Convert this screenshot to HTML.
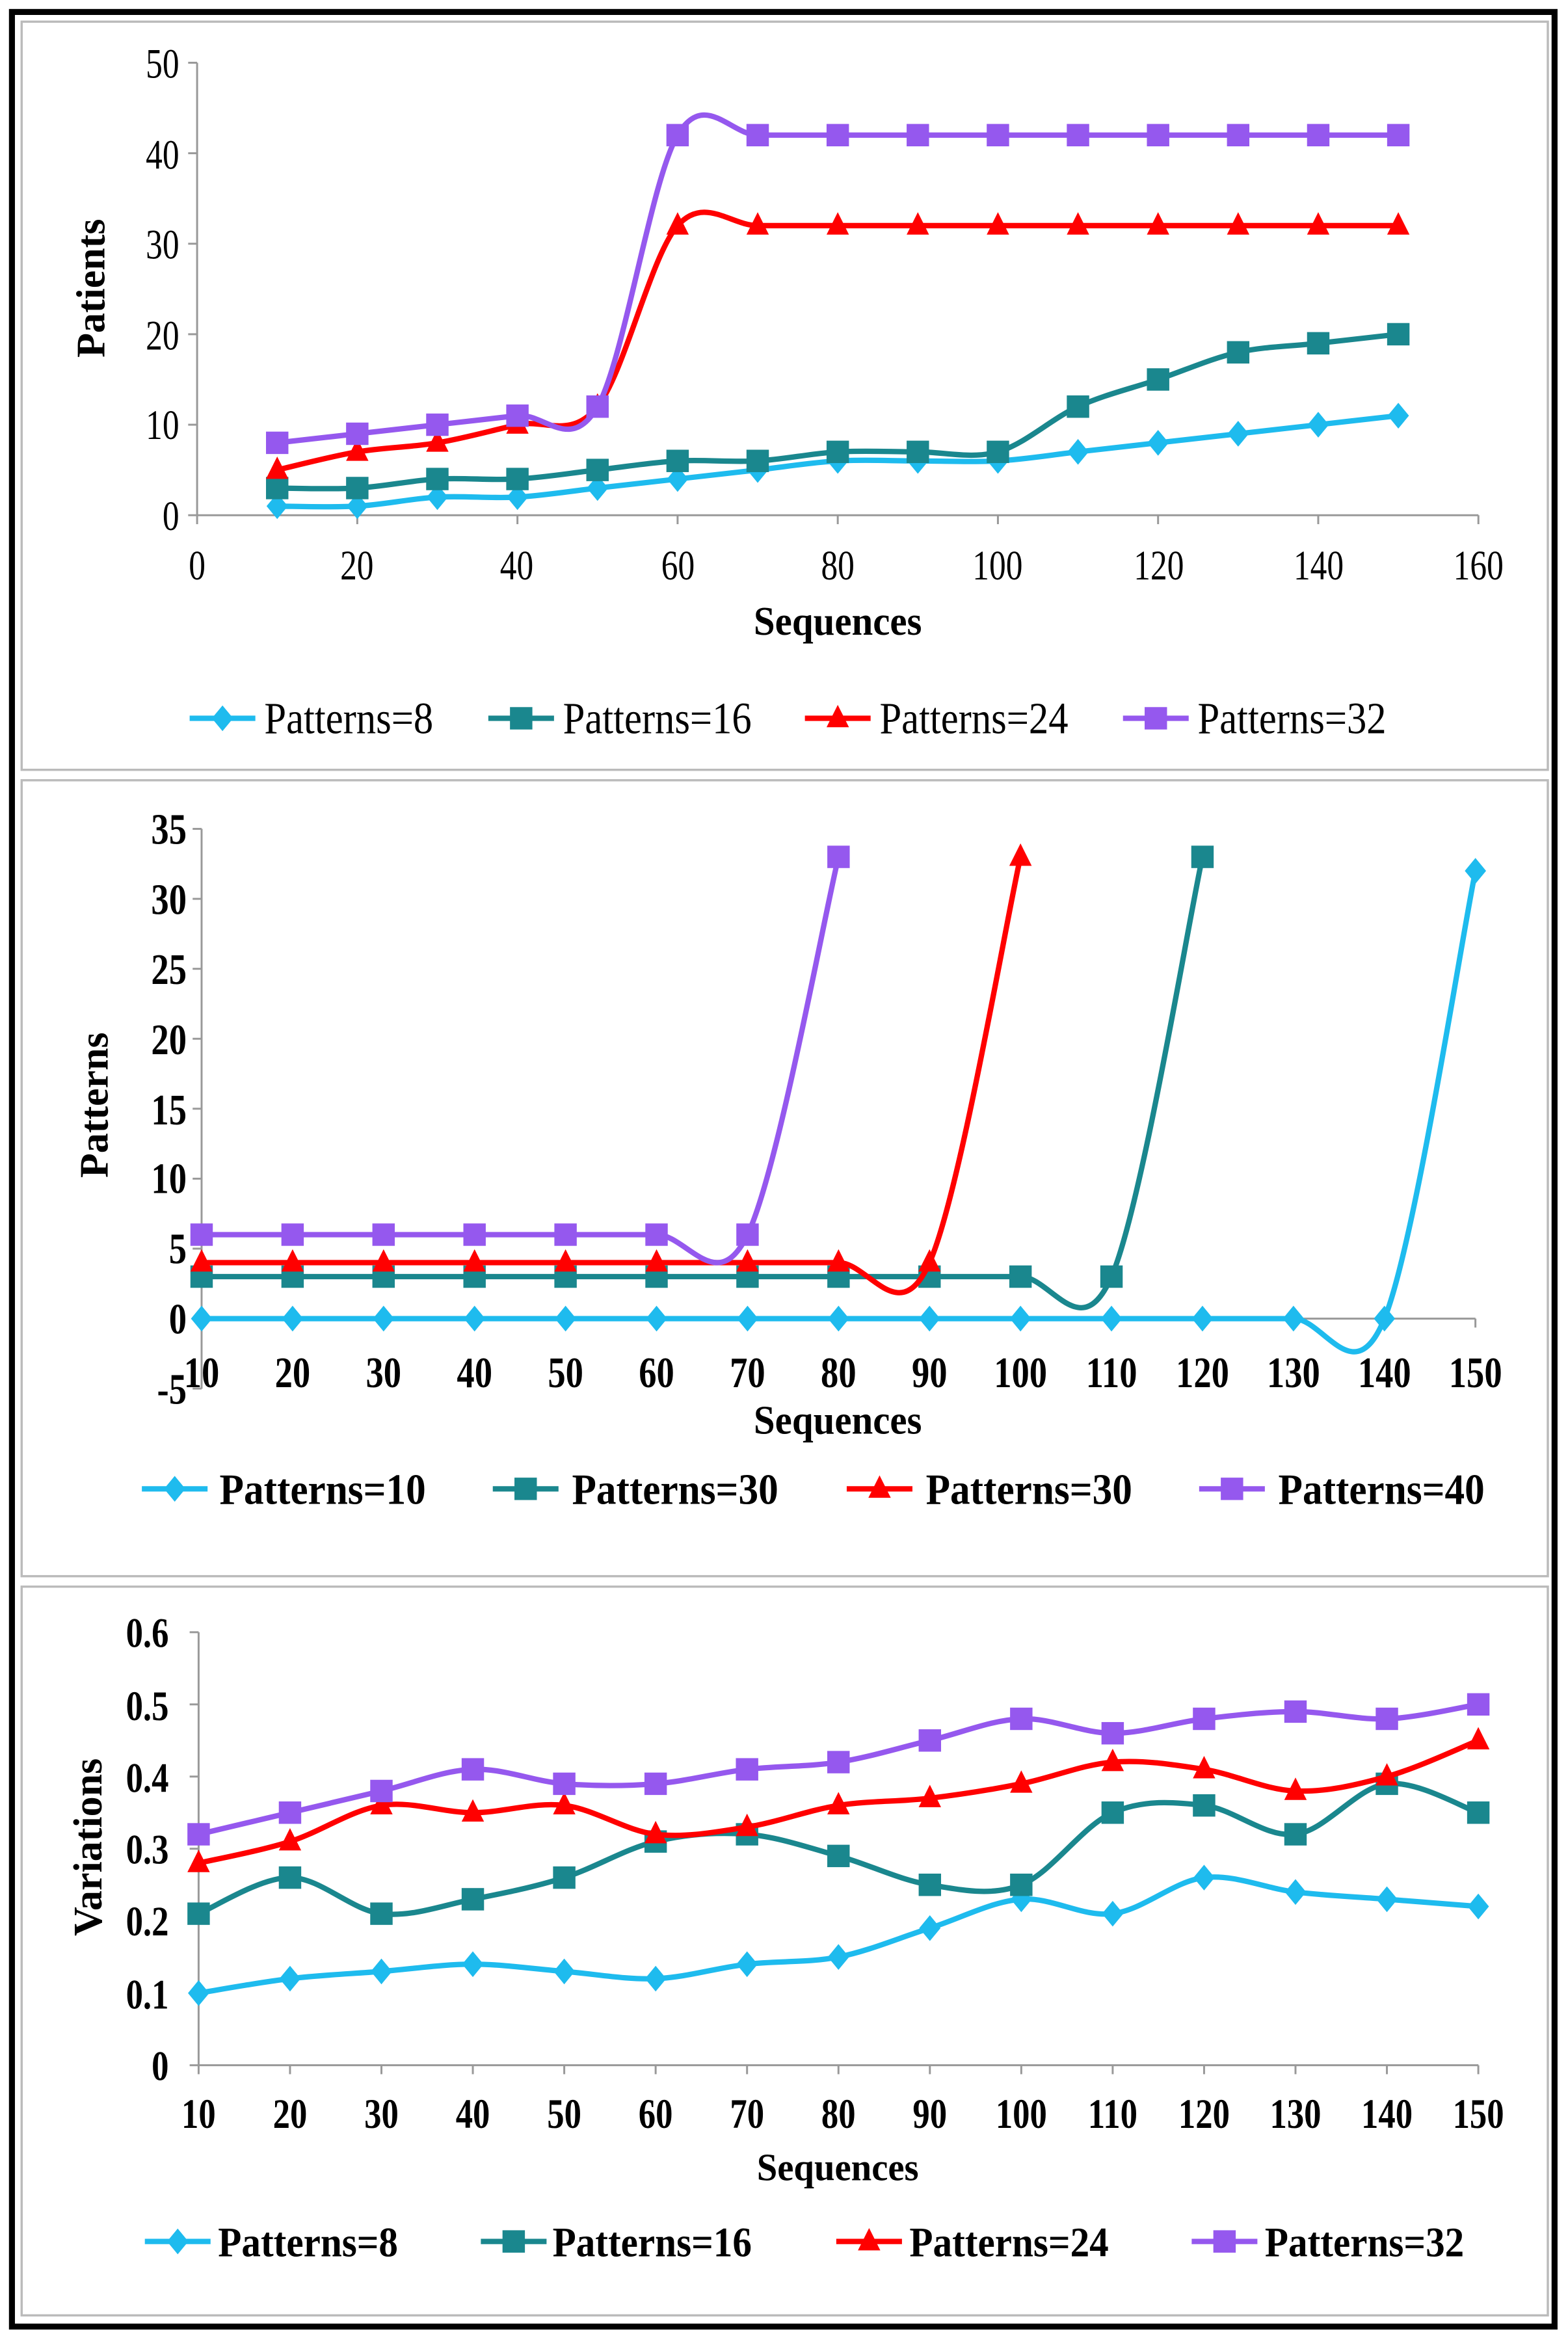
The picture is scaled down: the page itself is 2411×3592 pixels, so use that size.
<!DOCTYPE html>
<html><head><meta charset="utf-8"><style>
html,body{margin:0;padding:0;background:#fff;}
svg{display:block;}
text{font-family:"Liberation Serif",serif;fill:#000;}
.b{font-weight:bold;}
</style></head><body>
<svg id="s" width="2411" height="3592" viewBox="0 0 1050 1564.3" xmlns="http://www.w3.org/2000/svg">
<rect x="0" y="0" width="1050" height="1565" fill="#fff"/>
<rect x="8" y="8" width="1033" height="1550" fill="none" stroke="#000" stroke-width="4"/>
<rect x="14.5" y="14.5" width="1022" height="501" fill="none" stroke="#bbb" stroke-width="1.5"/>
<rect x="14.5" y="522.5" width="1022" height="533" fill="none" stroke="#bbb" stroke-width="1.5"/>
<rect x="14.5" y="1062.5" width="1022" height="488" fill="none" stroke="#bbb" stroke-width="1.5"/>

<!-- Chart 1 text -->
<g font-size="28" text-anchor="end" class="s80">
<text x="120" y="355">0</text><text x="120" y="294">10</text><text x="120" y="234">20</text><text x="120" y="173">30</text><text x="120" y="113">40</text><text x="120" y="52">50</text>
</g>
<g font-size="28" text-anchor="middle" class="s80">
<text x="132" y="388">0</text><text x="239" y="388">20</text><text x="346" y="388">40</text><text x="454" y="388">60</text><text x="561" y="388">80</text><text x="668" y="388">100</text><text x="776" y="388">120</text><text x="883" y="388">140</text><text x="990" y="388">160</text>
</g>
<text class="b s95" x="561" y="425" font-size="27" text-anchor="middle">Sequences</text>
<text class="b" x="0" y="0" font-size="27" text-anchor="middle" transform="translate(70,193) rotate(-90)">Patients</text>
<g font-size="30" class="s88">
<text x="177" y="491">Patterns=8</text><text x="377" y="491">Patterns=16</text><text x="589" y="491">Patterns=24</text><text x="802" y="491">Patterns=32</text>
</g>

<!-- Chart 2 text -->
<g font-size="29" text-anchor="end" class="b s82">
<text x="125" y="565">35</text><text x="125" y="612">30</text><text x="125" y="659">25</text><text x="125" y="706">20</text><text x="125" y="753">15</text><text x="125" y="799">10</text><text x="125" y="846">5</text><text x="125" y="893">0</text><text x="125" y="940">-5</text>
</g>
<g font-size="29" text-anchor="middle" class="b s82" id="x2"></g>
<text class="b s95" x="561" y="960" font-size="27" text-anchor="middle">Sequences</text>
<text class="b" x="0" y="0" font-size="27" text-anchor="middle" transform="translate(72,740) rotate(-90)">Patterns</text>
<g font-size="29" class="b s92">
<text x="147" y="1007">Patterns=10</text><text x="383" y="1007">Patterns=30</text><text x="620" y="1007">Patterns=30</text><text x="856" y="1007">Patterns=40</text>
</g>

<!-- Chart 3 text -->
<g font-size="28" text-anchor="end" class="b s82">
<text x="113" y="1393">0</text><text x="113" y="1345">0.1</text><text x="113" y="1296">0.2</text><text x="113" y="1248">0.3</text><text x="113" y="1200">0.4</text><text x="113" y="1152">0.5</text><text x="113" y="1103">0.6</text>
</g>
<g font-size="28" text-anchor="middle" class="b s82" id="x3"></g>
<text class="b s95" x="561" y="1460" font-size="26" text-anchor="middle">Sequences</text>
<text class="b" x="0" y="0" font-size="27" text-anchor="middle" transform="translate(68,1237) rotate(-90)">Variations</text>
<g font-size="28" class="b s92">
<text x="146" y="1511">Patterns=8</text><text x="370" y="1511">Patterns=16</text><text x="609" y="1511">Patterns=24</text><text x="847" y="1511">Patterns=32</text>
</g>
<g id="g"></g>
</svg>
<script>
var NS="http://www.w3.org/2000/svg",G=document.getElementById('g');
function el(t,a,p){var e=document.createElementNS(NS,t);for(var k in a)e.setAttribute(k,a[k]);(p||G).appendChild(e);return e;}
var C={c:'#1EBBEE',t:'#1A878E',r:'#FF0000',p:'#9558EE'};
function path(pts){var d='M'+pts[0][0]+','+pts[0][1];for(var i=0;i<pts.length-1;i++){var p0=pts[i-1]||pts[i],p1=pts[i],p2=pts[i+1],p3=pts[i+2]||p2;d+=' C'+(p1[0]+(p2[0]-p0[0])/6)+','+(p1[1]+(p2[1]-p0[1])/6)+' '+(p2[0]-(p3[0]-p1[0])/6)+','+(p2[1]-(p3[1]-p1[1])/6)+' '+p2[0]+','+p2[1];}return d;}
function mk(type,x,y,col,s){s=s||7.5;
 if(type=='d')el('polygon',{points:[x,y-s*1.15,x+s*0.95,y,x,y+s*1.15,x-s*0.95,y].join(' '),fill:col});
 else if(type=='s')el('rect',{x:x-s,y:y-s,width:2*s,height:2*s,fill:col});
 else el('polygon',{points:[x,y-s*1.2,x+s,y+s*0.8,x-s,y+s*0.8].join(' '),fill:col});}
function series(pts,col,type,s){el('path',{d:path(pts),fill:'none',stroke:col,'stroke-width':3.6});pts.forEach(function(p){mk(type,p[0],p[1],col,s);});}
function legend(x1,y,col,type){el('line',{x1:x1,y1:y,x2:x1+44,y2:y,stroke:col,'stroke-width':3.6});mk(type,x1+22,y,col,7.5);}
function ax(x1,y1,x2,y2){el('line',{x1:x1,y1:y1,x2:x2,y2:y2,stroke:'#999','stroke-width':1.3});}
var X2=document.getElementById('x2'),X3=document.getElementById('x3');
// Chart 1
ax(132,42,132,345);ax(132,345,990,345);
for(var v=0;v<=50;v+=10){var y=345-v*6.06;ax(126,y,132,y);}
for(var v=0;v<=160;v+=20){var x=132+v*5.3625;ax(x,345,x,351);}
function c1(arr){return arr.map(function(v,i){return[132+(10+10*i)*5.3625,345-v*6.06];});}
var P8=[1,1,2,2,3,4,5,6,6,6,7,8,9,10,11],P16=[3,3,4,4,5,6,6,7,7,7,12,15,18,19,20],P24=[5,7,8,10,12],P32=[8,9,10,11,12];
for(var i=0;i<10;i++){P24.push(32);P32.push(42);}
series(c1(P8),C.c,'d');series(c1(P16),C.t,'s');series(c1(P24),C.r,'t');series(c1(P32),C.p,'s');
legend(127,481,C.c,'d');legend(327,481,C.t,'s');legend(539,481,C.r,'t');legend(752,481,C.p,'s');
// Chart 2
function fx2(i){return 135+i*60.93;} function fy2(v){return 883-v*9.37;}
ax(135,555,135,930);ax(135,883,988,883);
for(var v=-5;v<=35;v+=5){ax(129,fy2(v),135,fy2(v));}
ax(988,883,988,889);
for(var i=0;i<15;i++){var t=el('text',{x:fx2(i),y:929},X2);t.textContent=(10+10*i);}
function s2(vals){return vals.map(function(v,i){return[fx2(i),fy2(v)];});}
var a=[],b=[],c=[],d=[];
for(i=0;i<14;i++)a.push(0);a.push(32);
for(i=0;i<11;i++)b.push(3);b.push(33);
for(i=0;i<9;i++)c.push(4);c.push(33);
for(i=0;i<7;i++)d.push(6);d.push(33);
series(s2(a),C.c,'d');series(s2(b),C.t,'s');series(s2(c),C.r,'t');series(s2(d),C.p,'s');
legend(95,997,C.c,'d');legend(330,997,C.t,'s');legend(567,997,C.r,'t');legend(803,997,C.p,'s');
// Chart 3
function fx3(i){return 133+i*61.21;} function fy3(v){return 1383-v*483.3;}
ax(133,1093,133,1383);ax(133,1383,990,1383);
for(var v=0;v<=6;v++){ax(127,fy3(v/10),133,fy3(v/10));}
for(i=0;i<15;i++){ax(fx3(i),1383,fx3(i),1389);var t=el('text',{x:fx3(i),y:1425},X3);t.textContent=(10+10*i);}
function s3(vals){return vals.map(function(v,i){return[fx3(i),fy3(v)];});}
series(s3([.10,.12,.13,.14,.13,.12,.14,.15,.19,.23,.21,.26,.24,.23,.22]),C.c,'d');
series(s3([.21,.26,.21,.23,.26,.31,.32,.29,.25,.25,.35,.36,.32,.39,.35]),C.t,'s');
series(s3([.28,.31,.36,.35,.36,.32,.33,.36,.37,.39,.42,.41,.38,.40,.45]),C.r,'t');
series(s3([.32,.35,.38,.41,.39,.39,.41,.42,.45,.48,.46,.48,.49,.48,.50]),C.p,'s');
legend(97,1501,C.c,'d');legend(322,1501,C.t,'s');legend(560,1501,C.r,'t');legend(798,1501,C.p,'s');
// horizontal condense of text
var texts=document.querySelectorAll('text');
for(var k=0;k<texts.length;k++){var t=texts[k];if(t.getAttribute('transform'))continue;
 var n=t.parentNode,cls=(t.getAttribute('class')||'')+' '+(n.getAttribute&&n.getAttribute('class')||'');
 var m=cls.match(/s(\d\d)/);if(!m)continue;var sx=m[1]/100;
 var x=+t.getAttribute('x'),y=+t.getAttribute('y');
 t.setAttribute('x',0);t.setAttribute('y',0);
 t.setAttribute('transform','translate('+x+','+y+') scale('+sx+',1)');}
</script>
</body></html>
